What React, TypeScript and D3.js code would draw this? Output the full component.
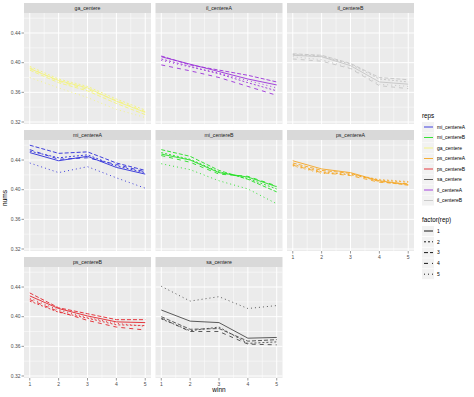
import React from 'react';
import * as d3 from 'd3';

// facets in panel order (alphabetical, like facet_wrap)
const panels = ['ga_centere', 'il_centereA', 'il_centereB', 'mi_centereA', 'mi_centereB', 'ps_centereA', 'ps_centereB', 'sa_centere'];
const winn = [1, 2, 3, 4, 5];
const repLevels = ['1', '2', '3', '4', '5'];

// legend order of the colour scale
const legendReps = ['mi_centereA', 'mi_centereB', 'ga_centere', 'ps_centereA', 'ps_centereB', 'sa_centere', 'il_centereA', 'il_centereB'];
const repColors = ['#2b2bd9', '#22e022', '#f4f47a', '#f5a623', '#e3242b', '#4a4a4a', '#9b30d9', '#c4c4c4'];

// nums per rep (rows) per winn (cols)
const gaCentere = [
  [0.392, 0.376, 0.366, 0.348, 0.333],
  [0.395, 0.378, 0.368, 0.351, 0.336],
  [0.390, 0.373, 0.362, 0.345, 0.330],
  [0.393, 0.375, 0.364, 0.349, 0.334],
  [0.380, 0.366, 0.353, 0.337, 0.326],
];
const ilCentereA = [
  [0.408, 0.398, 0.388, 0.378, 0.370],
  [0.405, 0.395, 0.385, 0.373, 0.362],
  [0.409, 0.397, 0.390, 0.383, 0.374],
  [0.397, 0.389, 0.380, 0.368, 0.356],
  [0.403, 0.394, 0.386, 0.376, 0.366],
];
const ilCentereB = [
  [0.410, 0.408, 0.396, 0.374, 0.371],
  [0.411, 0.409, 0.398, 0.378, 0.374],
  [0.412, 0.410, 0.399, 0.380, 0.377],
  [0.405, 0.402, 0.392, 0.369, 0.365],
  [0.408, 0.404, 0.393, 0.371, 0.368],
];
const miCentereA = [
  [0.450, 0.439, 0.445, 0.430, 0.421],
  [0.452, 0.443, 0.447, 0.432, 0.423],
  [0.460, 0.449, 0.451, 0.436, 0.426],
  [0.454, 0.441, 0.443, 0.434, 0.424],
  [0.436, 0.423, 0.431, 0.416, 0.402],
];
const miCentereB = [
  [0.448, 0.440, 0.423, 0.417, 0.404],
  [0.450, 0.441, 0.424, 0.415, 0.401],
  [0.454, 0.445, 0.426, 0.414, 0.397],
  [0.446, 0.437, 0.421, 0.418, 0.405],
  [0.435, 0.427, 0.412, 0.401, 0.381],
];
const psCentereA = [
  [0.439, 0.428, 0.423, 0.412, 0.407],
  [0.434, 0.424, 0.420, 0.413, 0.410],
  [0.436, 0.426, 0.422, 0.411, 0.406],
  [0.433, 0.423, 0.419, 0.410, 0.408],
  [0.432, 0.422, 0.421, 0.414, 0.411],
];
const psCentereB = [
  [0.428, 0.411, 0.401, 0.393, 0.392],
  [0.421, 0.406, 0.398, 0.389, 0.388],
  [0.432, 0.412, 0.404, 0.396, 0.396],
  [0.423, 0.407, 0.395, 0.386, 0.382],
  [0.425, 0.409, 0.399, 0.391, 0.387],
];
const saCentere = [
  [0.409, 0.394, 0.392, 0.371, 0.372],
  [0.397, 0.381, 0.386, 0.364, 0.366],
  [0.400, 0.383, 0.384, 0.367, 0.369],
  [0.398, 0.380, 0.380, 0.363, 0.362],
  [0.441, 0.421, 0.427, 0.411, 0.415],
];
const panelValues = [gaCentere, ilCentereA, ilCentereB, miCentereA, miCentereB, psCentereA, psCentereB, saCentere];

const yTicks = [0.32, 0.36, 0.40, 0.44];
const yMinor = [0.34, 0.38, 0.42, 0.46];
const xMinor = [1.5, 2.5, 3.5, 4.5];

// ggplot default linetypes: solid, 22, 42, 44, 13
const dashes = [null, '2,2', '4,2', '4,4', '1,3'];

const W = 474, H = 397;
const colX = [24, 155.5, 287];
const rowY = [3, 130, 257];
const pw = 127, stripH = 10, ph = 111;
const font = '"Liberation Sans", Arial, sans-serif';

export default function App() {
  const x = d3.scaleLinear().domain([0.8, 5.2]).range([0, pw]);
  const y = d3.scaleLinear().domain([0.3173, 0.467]).range([ph, 0]);
  const colorOf = d3.scaleOrdinal<string, string>().domain(legendReps).range(repColors);
  const line = d3.line<number>().x((_, i) => x(winn[i])).y(v => y(v));

  return (
    <div style={{ position: 'absolute', left: 0, top: 0 }}>
      <svg width={W} height={H} style={{ display: 'block', background: '#fff', fontFamily: font }}>
        {panels.map((p, k) => {
          const col = k % 3, row = Math.floor(k / 3);
          const px = colX[col], py = rowY[row] + stripH;
          const showX = k >= 5;
          const showY = col === 0;
          return (
            <g key={p} transform={`translate(${px},${rowY[row]})`}>
              <rect x={0} y={0} width={pw} height={stripH} fill="#d9d9d9" />
              <text x={pw / 2} y={stripH / 2 + 1.8} textAnchor="middle" fontSize={5.2} fill="#1a1a1a">{p}</text>
              <g transform={`translate(0,${stripH})`}>
                <rect x={0} y={0} width={pw} height={ph} fill="#ebebeb" />
                {yMinor.map(t => <line key={'ym' + t} x1={0} x2={pw} y1={y(t)} y2={y(t)} stroke="#fff" strokeWidth={0.5} />)}
                {xMinor.map(t => <line key={'xm' + t} y1={0} y2={ph} x1={x(t)} x2={x(t)} stroke="#fff" strokeWidth={0.5} />)}
                {yTicks.map(t => <line key={'y' + t} x1={0} x2={pw} y1={y(t)} y2={y(t)} stroke="#fff" strokeWidth={1} />)}
                {winn.map(t => <line key={'x' + t} y1={0} y2={ph} x1={x(t)} x2={x(t)} stroke="#fff" strokeWidth={1} />)}
                {panelValues[k].map((vals, r) => (
                  <path key={r} d={line(vals) || ''} fill="none" stroke={colorOf(p)} strokeWidth={0.9}
                    strokeDasharray={dashes[r] || undefined} />
                ))}
                {showY && yTicks.map(t => (
                  <g key={'yl' + t}>
                    <line x1={-2.5} x2={0} y1={y(t)} y2={y(t)} stroke="#333" strokeWidth={0.5} />
                    <text x={-3.5} y={y(t) + 1.8} textAnchor="end" fontSize={5} fill="#4d4d4d">{t.toFixed(2)}</text>
                  </g>
                ))}
                {showX && winn.map(t => (
                  <g key={'xl' + t}>
                    <line x1={x(t)} x2={x(t)} y1={ph} y2={ph + 2.5} stroke="#333" strokeWidth={0.5} />
                    <text x={x(t)} y={ph + 8} textAnchor="middle" fontSize={5} fill="#4d4d4d">{t}</text>
                  </g>
                ))}
              </g>
              {py < 0 ? null : null}
            </g>
          );
        })}

        <text x={(colX[0] + colX[2] + pw) / 2} y={392} textAnchor="middle" fontSize={6.5} fill="#000">winn</text>
        <text transform={`translate(7,198) rotate(-90)`} textAnchor="middle" fontSize={6.5} fill="#000">nums</text>

        <g transform="translate(421,0)">
          <text x={1} y={118} fontSize={6.3} fill="#000">reps</text>
          {legendReps.map((r, i) => {
            const cy = 127 + i * 10.5;
            return (
              <g key={r}>
                <rect x={1} y={cy - 5} width={12} height={10} fill="#f2f2f2" />
                <line x1={3} x2={12} y1={cy} y2={cy} stroke={colorOf(r)} strokeWidth={0.9} />
                <text x={16} y={cy + 1.8} fontSize={5} fill="#000">{r}</text>
              </g>
            );
          })}
          <text x={1} y={222} fontSize={6.3} fill="#000">factor(rep)</text>
          {repLevels.map((r, i) => {
            const cy = 231 + i * 10.8;
            return (
              <g key={r}>
                <rect x={1} y={cy - 5} width={12} height={10} fill="#f2f2f2" />
                <line x1={3} x2={12} y1={cy} y2={cy} stroke="#000" strokeWidth={0.9}
                  strokeDasharray={dashes[i] || undefined} />
                <text x={16} y={cy + 1.8} fontSize={5} fill="#000">{r}</text>
              </g>
            );
          })}
        </g>
      </svg>
    </div>
  );
}
